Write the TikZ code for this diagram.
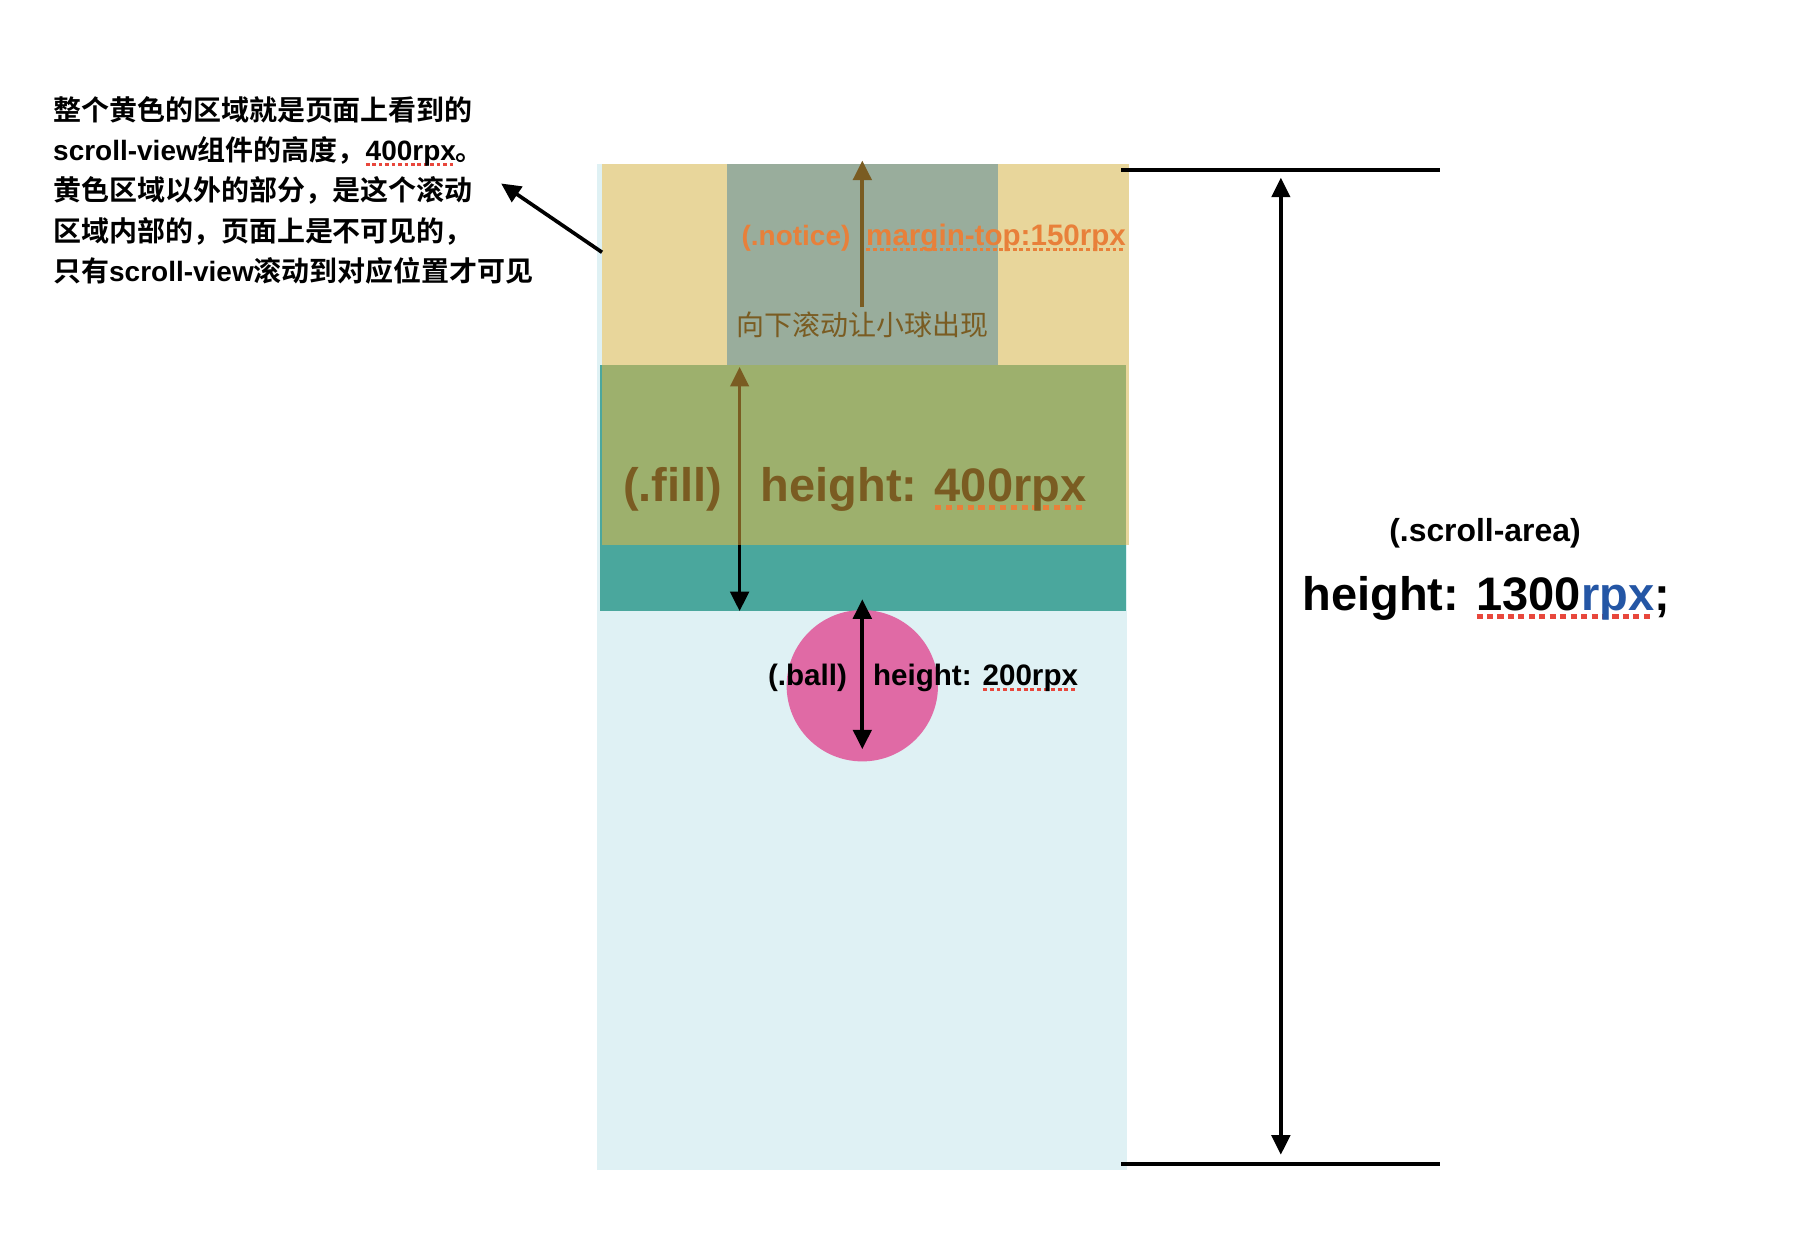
\documentclass[tikz,border=0pt]{standalone}
\usepackage{fontspec}
\setmainfont{Liberation Sans}
\newfontfamily\zh{Noto Sans CJK SC}[BoldFont={Noto Sans CJK SC Bold}]
\usetikzlibrary{arrows.meta,positioning,calc}

\definecolor{areablue}{HTML}{DFF1F4}
\definecolor{fillteal}{HTML}{4AA79D}
\definecolor{viewyellow}{HTML}{E8D69B}
\definecolor{noticegrey}{HTML}{99AD9C}
\definecolor{fillolive}{HTML}{9DB06D}
\definecolor{ballpink}{HTML}{E06AA5}
\definecolor{fillbrown}{HTML}{7A5C22}
\definecolor{noticeorange}{HTML}{E8803A}
\definecolor{rpxblue}{HTML}{2456A5}
\definecolor{ulred}{HTML}{E8473C}

% dotted underline in a given colour
\newcommand{\dotul}[2]{\begingroup\setbox0\hbox{#2}%
  \rlap{\color{#1}\hbox to \wd0{\xleaders\hbox{\rule[-0.18em]{0.13em}{0.1em}\kern0.09em}\hfill}}\box0\endgroup}

\tikzset{
  lbl/.style={inner sep=0pt, text height=0.75em, text depth=0.22em},
  bigtxt/.style={lbl, font=\fontsize{20.5}{24}\selectfont\bfseries},
  midtxt/.style={lbl, font=\fontsize{13.9}{16}\selectfont\bfseries},
  smalltxt/.style={lbl, font=\fontsize{12.9}{15}\selectfont\bfseries},
  dimline/.style={line width=1.6pt},
  brownline/.style={line width=1.6pt, draw=fillbrown},
  >={Triangle[width=8pt,length=8.5pt]}
}

\begin{document}
\begin{tikzpicture}[x=0.5pt,y=-0.5pt]

  \useasboundingbox[fill=white] (0,0) rectangle (1568,1080);

  % areas
  \fill[areablue] (521,143) rectangle (983,1020);
  \fill[fillteal] (523,318) rectangle (982,533);
  \fill[viewyellow] (525,143) rectangle (985,475);
  \fill[noticegrey] (634,143) rectangle (870,318);
  \fill[fillolive] (525,318) rectangle (982,475);

  \node[circle, fill=ballpink, minimum size=66pt, inner sep=0pt] (ball) at (752,598) {};

  % notice
  \coordinate (ntop) at (752,140);
  \coordinate (nbot) at (752,268);
  \draw[brownline,->] (nbot) -- (ntop);
  \node[smalltxt, font=\fontsize{12.2}{15}\selectfont\bfseries, text=noticeorange, anchor=base east] (noticelbl) at (742,214) {(.notice)};
  \node[smalltxt, text=noticeorange, anchor=base west] (noticeh) at (755,214) {\dotul{noticeorange}{margin-top:150rpx}};
  \node[font=\zh\fontsize{12.2}{14}\selectfont, text=fillbrown, inner sep=0pt] (hint) at (752,283) {向下滚动让小球出现};

  % fill
  \coordinate (ftop) at (645,320);
  \coordinate (fmid) at (645,475);
  \coordinate (fbot) at (645,533);
  \draw[brownline,->] (fmid) -- (ftop);
  \draw[dimline,->] (fmid) -- (fbot);
  \node[bigtxt, text=fillbrown, anchor=base west] (filllbl) at (543,437) {(.fill)};
  \node[bigtxt, text=fillbrown, anchor=base west] (fillh) at (663,437) {height: \dotul{noticeorange}{400rpx}};

  % ball
  \coordinate (btop) at ($(ball.north)+(0,-9)$);
  \coordinate (bbot) at ($(ball.south)+(0,-11)$);
  \draw[dimline,<->] (btop) -- (bbot);
  \node[smalltxt, anchor=base east] (balllbl) at (739,598) {(.ball)};
  \node[smalltxt, anchor=base west] (ballh) at (761,598) {height: \dotul{ulred}{200rpx}};

  % scroll-area
  \coordinate (dimtl) at (978,148);
  \coordinate (dimtr) at (1256,148);
  \coordinate (dimbl) at (978,1015);
  \coordinate (dimbr) at (1256,1015);
  \coordinate (dimtop) at (1117,155);
  \coordinate (dimbot) at (1117,1007);
  \draw[dimline] (dimtl) -- (dimtr);
  \draw[dimline] (dimbl) -- (dimbr);
  \draw[dimline,<->] (dimtop) -- (dimbot);
  \node[midtxt, anchor=base] (arealbl) at (1295,472) {(.scroll-area)};
  \node[bigtxt, anchor=base] (areah) at (1296,532) {height: \dotul{ulred}{1300\textcolor{rpxblue}{rpx}};};

  % note
  \node[anchor=west, align=left, inner sep=0pt, font=\fontsize{12.2}{17.6}\selectfont\bfseries] (note) at (46,166)
    {{\zh 整个黄色的区域就是页面上看到的}\\
     scroll-view{\zh 组件的高度，}\dotul{ulred}{400rpx}{\zh 。}\\
     {\zh 黄色区域以外的部分，是这个滚动}\\
     {\zh 区域内部的，页面上是不可见的，}\\
     {\zh 只有}scroll-view{\zh 滚动到对应位置才可见}};
  \coordinate (notetip) at (437,160);
  \coordinate (notefrom) at (525,220);
  \draw[dimline,->] (notefrom) -- (notetip);

\end{tikzpicture}
\end{document}
